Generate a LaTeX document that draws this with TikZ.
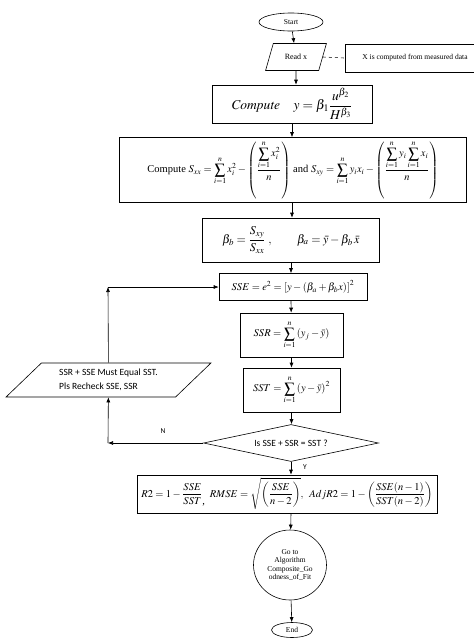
\documentclass[tikz,border=0pt]{standalone}
\usepackage{amsmath}
\usepackage{mathptmx}
\usepackage{fontspec}
\setmainfont{Liberation Serif}
\newfontfamily\calibri{Carlito}
\usetikzlibrary{shapes.geometric,arrows.meta}
\tikzset{
  box/.style={draw, rectangle, inner sep=0pt, align=center},
  terminal/.style={draw, ellipse, inner sep=0pt, align=center, font=\fontsize{7.5}{8.5}\selectfont},
  inout/.style={draw, trapezium, trapezium stretches=true, inner sep=0pt},
  decide/.style={draw, diamond, inner sep=0pt, font=\calibri\fontsize{9.5}{10}\selectfont}
}
\begin{document}
\begin{tikzpicture}[x=1pt,y=-1pt,>={Latex[length=5pt,width=4pt]},line width=0.6pt]
\useasboundingbox (0,0) rectangle (474,641);
% top part
\node [terminal, minimum width=64pt, minimum height=18pt] (start) at (291,22) {Start};
\node [inout, trapezium left angle=56, trapezium right angle=124, align=center,
  minimum width=61pt, minimum height=27pt, font=\fontsize{8}{9}\selectfont] (readx) at (296,57) {Read x};
\node [box, minimum width=140pt, minimum height=28pt, font=\fontsize{7.5}{8}\selectfont] (note) at (415,58) {X is computed from measured data};
\node [box, minimum width=160pt, minimum height=38pt, font=\fontsize{13.5}{15}\selectfont] (comp) at (292,104)
  {$\mathit{Compute}\quad y=\beta_1\dfrac{u^{\beta_2}}{H^{\beta_3}}$};
\node [box, minimum width=347pt, minimum height=65pt, font=\fontsize{10.5}{12}\selectfont] (sums) at (293,170)
  {Compute $S_{xx}=\displaystyle\sum_{i=1}^{n}x_i^2-\left(\frac{\displaystyle\sum_{i=1}^{n}x_i^2}{n}\right)$
   and $S_{xy}=\displaystyle\sum_{i=1}^{n}y_ix_i-\left(\frac{\displaystyle\sum_{i=1}^{n}y_i\sum_{i=1}^{n}x_i}{n}\right)$};
\node [box, minimum width=177pt, minimum height=44pt, font=\fontsize{12}{14}\selectfont] (beta) at (291,240)
  {$\beta_b=\dfrac{S_{xy}}{S_{xx}}\;,\qquad \beta_a=\bar{y}-\beta_b\,\bar{x}$};
% sums of squares
\node [box, minimum width=148pt, minimum height=27pt, font=\fontsize{10.5}{12}\selectfont] (sse) at (293,287)
  {$SSE=e^2=\left[y-\left(\beta_a+\beta_b x\right)\right]^2$};
\node [box, minimum width=103pt, minimum height=44pt, font=\fontsize{10.5}{12}\selectfont] (ssr) at (291.5,335)
  {$SSR=\displaystyle\sum_{i=1}^{n}\left(y_j-\bar{y}\right)$};
\node [box, minimum width=97pt, minimum height=44pt, font=\fontsize{10.5}{12}\selectfont] (sst) at (291.5,390)
  {$SST=\displaystyle\sum_{i=1}^{n}\left(y-\bar{y}\right)^2$};
\node [decide, minimum width=175pt, minimum height=37pt, aspect=4.7] (check) at (291,443) {Is SSE + SSR = SST ?};
\node [inout, trapezium left angle=40, trapezium right angle=140, align=left,
  minimum width=205pt, minimum height=34pt, font=\calibri\fontsize{9.5}{14}\selectfont] (recheck) at (108.5,380)
  {SSR + SSE Must Equal SST.\\Pls Recheck SSE, SSR};
% results
\node [box, minimum width=300pt, minimum height=38pt, font=\fontsize{10.5}{12}\selectfont] (fit) at (287,494)
  {$R2=1-\dfrac{SSE}{SST}\raisebox{-7pt}{,}\;\; RMSE=\sqrt{\left(\dfrac{SSE}{n-2}\right)},\;\;
   AdjR2=1-\left(\dfrac{SSE(n-1)}{SST(n-2)}\right)$};
\node [terminal, minimum width=73pt, minimum height=70pt] (goto) at (290,565)
  {Go to\\Algorithm\\Composite\_Go\\odness\_of\_Fit};
\node [terminal, minimum width=41pt, minimum height=15pt] (end) at (292,630) {End};
% connectors
\draw [->] (start) -- (readx);
\draw [dashed] (readx.east) -- (note.west);
\draw [->] (readx) -- (readx |- comp.north);
\draw [->] (comp) -- (comp |- sums.north);
\draw [->] (sums.south -| comp) -- (comp |- beta.north);
\draw [->] (beta) -- (beta |- sse.north);
\draw [->] (sse.south -| beta) -- (ssr);
\draw [->] (ssr) -- (sst);
\draw [->] (sst.south) -- (check.north -| sst);
\draw [->] (check) -- (check |- fit.north);
\draw [->] (fit.south -| check) -- (goto);
\draw [->] (goto) -- (end);
% feedback loop
\coordinate (lowcorner) at (108,443);
\coordinate (upcorner) at (108,287);
\draw [->] (check.west) -- (lowcorner);
\draw [->] (lowcorner) -- (recheck);
\draw [->] (recheck) -- (upcorner);
\draw [->] (upcorner) -- (sse.west);
\node [font=\calibri\fontsize{7.5}{8}\selectfont] (nlabel) at (163,431) {N};
\node [font=\calibri\fontsize{7.5}{8}\selectfont] (ylabel) at (305,467) {Y};
\end{tikzpicture}
\end{document}
